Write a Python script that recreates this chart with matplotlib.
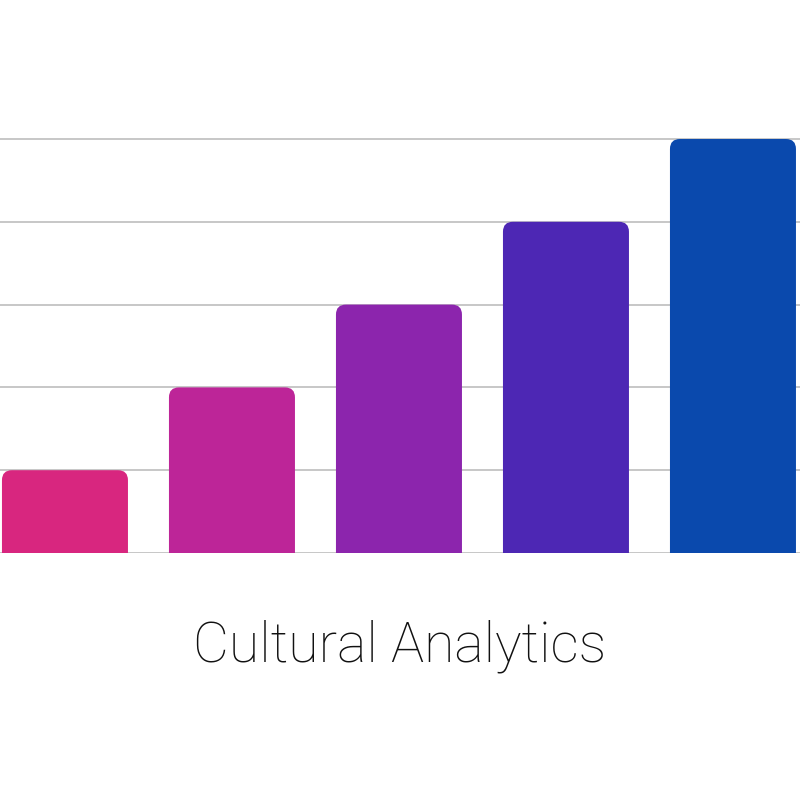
import matplotlib
matplotlib.use("Agg")
import matplotlib.pyplot as plt
from matplotlib.patches import FancyBboxPatch

categories = ["A", "B", "C", "D", "E"]
values = [1, 2, 3, 4, 5]
colors = ["#d8267f", "#bd2598", "#8c25ad", "#4d27b4", "#0a49ad"]
title = "Cultural Analytics"

fig = plt.figure(figsize=(8, 8), dpi=100)
ax = fig.add_axes([0, 1 - 553/800, 1, (553 - 139)/800 / 5 * 5.2])
ax.set_xlim(-0.377 - 2/167, -0.389 + 800/167)
ax.set_ylim(0, 5.2)
ax.axis("off")

for g in range(0, 6):
    ax.axhline(g, color="#bdbdbd", lw=1.2, zorder=1)

w = 126/167
for i, v in enumerate(values):
    p = FancyBboxPatch((i - w/2, -0.5), w, v + 0.5,
                       boxstyle="round,pad=0,rounding_size=%f" % (10/167),
                       mutation_aspect=2.0, fc=colors[i], ec="none", zorder=2)
    p.set_clip_box(ax.bbox)
    p.set_clip_on(True)
    ax.add_patch(p)

fig.text(0.5, 1 - 646/800, title, ha="center", va="center",
         fontsize=40, family="Roboto", weight=100, color="#111111")
fig.savefig("out.png", dpi=100, facecolor="white")
